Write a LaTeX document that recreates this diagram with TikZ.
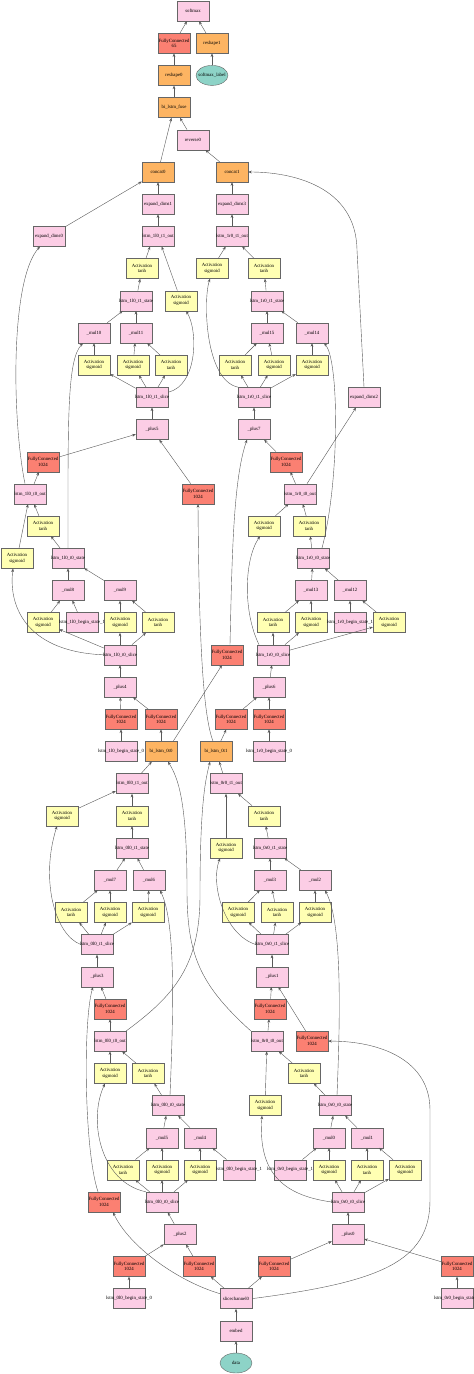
\documentclass[tikz,border=0pt]{standalone}
\usepackage{fontspec}
\setmainfont{Liberation Serif}
\usetikzlibrary{arrows.meta,shapes.geometric}
\definecolor{cpink}{HTML}{FCCDE5}
\definecolor{cred}{HTML}{FB8072}
\definecolor{cyel}{HTML}{FFFFB3}
\definecolor{corg}{HTML}{FDB462}
\definecolor{cteal}{HTML}{8DD3C7}
\newcommand{\mytx}[1]{\makebox[0pt]{#1}}
\newcommand{\mytwo}[2]{\makebox[0pt]{#1}\\\makebox[0pt]{#2}}
\begin{document}
\begin{tikzpicture}[x=1pt,y=-1pt,
  nbox/.style={rectangle, draw=black!60, line width=0.4pt, minimum width=32pt, minimum height=20pt, inner sep=0pt, font=\fontsize{4.8}{5.6}\selectfont, align=center},
  pk/.style={nbox, fill=cpink},
  fcn/.style={nbox, fill=cred},
  act/.style={nbox, fill=cyel},
  org/.style={nbox, fill=corg},
  var/.style={nbox, ellipse, fill=cteal},
  e/.style={draw=black!65, line width=0.4pt, -{Stealth[length=3.6pt,width=2.8pt]}}]
\path[use as bounding box, fill=white] (0,0) rectangle (474,1374);
% ---------- nodes ----------
\node[pk] (softmax) at (193,11) {\mytx{softmax}};
\node[fcn] (fc65) at (174,43.2) {\mytwo{FullyConnected}{65}};
\node[org] (reshape1) at (212,43.2) {\mytx{reshape1}};
\node[org] (reshape0) at (174,75.4) {\mytx{reshape0}};
\node[var] (label) at (212,75.4) {\mytx{softmax\_label}};
\node[org] (fuse) at (174,107.6) {\mytx{bi\_lstm\_fuse}};
\node[pk] (reverse0) at (193,139.8) {\mytx{reverse0}};
\node[org] (concat0) at (158,172) {\mytx{concat0}};
\node[org] (concat1) at (232,172) {\mytx{concat1}};
\node[pk] (ed1) at (158,204.1) {\mytx{expand\_dims1}};
\node[pk] (ed3) at (232,204.1) {\mytx{expand\_dims3}};
\node[pk] (ed0) at (49,236.3) {\mytx{expand\_dims0}};
\node[pk] (l1t1out) at (158,236.3) {\mytx{lstm\_1l0\_t1\_out}};
\node[pk] (r1t1out) at (232,236.3) {\mytx{lstm\_1r0\_t1\_out}};
\node[act] (a1) at (142,268.5) {\mytwo{Activation}{tanh}};
\node[act] (a2) at (212,268.5) {\mytwo{Activation}{sigmoid}};
\node[act] (a3) at (264,268.5) {\mytwo{Activation}{tanh}};
\node[pk] (l1t1state) at (136,300.7) {\mytx{lstm\_1l0\_t1\_state}};
\node[act] (a4) at (181,300.7) {\mytwo{Activation}{sigmoid}};
\node[pk] (r1t1state) at (267,300.7) {\mytx{lstm\_1r0\_t1\_state}};
\node[pk] (mul10) at (94,332.9) {\mytx{\_mul10}};
\node[pk] (mul11) at (136,332.9) {\mytx{\_mul11}};
\node[pk] (mul15) at (267,332.9) {\mytx{\_mul15}};
\node[pk] (mul14) at (312,332.9) {\mytx{\_mul14}};
\node[act] (a5) at (94,365.1) {\mytwo{Activation}{sigmoid}};
\node[act] (a6) at (133,365.1) {\mytwo{Activation}{sigmoid}};
\node[act] (a7) at (171,365.1) {\mytwo{Activation}{tanh}};
\node[act] (a8) at (235,365.1) {\mytwo{Activation}{tanh}};
\node[act] (a9) at (274,365.1) {\mytwo{Activation}{sigmoid}};
\node[act] (a10) at (312,365.1) {\mytwo{Activation}{sigmoid}};
\node[pk] (l1t1slice) at (152,397.3) {\mytx{lstm\_1l0\_t1\_slice}};
\node[pk] (r1t1slice) at (254,397.3) {\mytx{lstm\_1r0\_t1\_slice}};
\node[pk] (ed2) at (364,397.3) {\mytx{expand\_dims2}};
\node[pk] (plus5) at (152,429.5) {\mytx{\_plus5}};
\node[pk] (plus7) at (254,429.5) {\mytx{\_plus7}};
\node[fcn] (fcA) at (43,461.7) {\mytwo{FullyConnected}{1024}};
\node[fcn] (fcB) at (286,461.7) {\mytwo{FullyConnected}{1024}};
\node[pk] (l1t0out) at (30,493.9) {\mytx{lstm\_1l0\_t0\_out}};
\node[fcn] (fcC) at (198,493.9) {\mytwo{FullyConnected}{1024}};
\node[pk] (r1t0out) at (300,493.9) {\mytx{lstm\_1r0\_t0\_out}};
\node[act] (a11) at (43,526) {\mytwo{Activation}{tanh}};
\node[act] (a12) at (264,526) {\mytwo{Activation}{sigmoid}};
\node[act] (a13) at (309,526) {\mytwo{Activation}{tanh}};
\node[act] (a14) at (17,558.2) {\mytwo{Activation}{sigmoid}};
\node[pk] (l1t0state) at (68,558.2) {\mytx{lstm\_1l0\_t0\_state}};
\node[pk] (r1t0state) at (313,558.2) {\mytx{lstm\_1r0\_t0\_state}};
\node[pk] (mul8) at (68,590.4) {\mytx{\_mul8}};
\node[pk] (mul9) at (120,590.4) {\mytx{\_mul9}};
\node[pk] (mul13) at (311,590.4) {\mytx{\_mul13}};
\node[pk] (mul12) at (350,590.4) {\mytx{\_mul12}};
\node[act] (a15) at (43,622.6) {\mytwo{Activation}{sigmoid}};
\node[pk] (l1bs1) at (82,622.6) {\mytx{lstm\_1l0\_begin\_state\_1}};
\node[act] (a16) at (120,622.6) {\mytwo{Activation}{sigmoid}};
\node[act] (a17) at (158,622.6) {\mytwo{Activation}{tanh}};
\node[act] (a18) at (273,622.6) {\mytwo{Activation}{tanh}};
\node[act] (a19) at (311,622.6) {\mytwo{Activation}{sigmoid}};
\node[pk] (r1bs1) at (350,622.6) {\mytx{lstm\_1r0\_begin\_state\_1}};
\node[act] (a20) at (389,622.6) {\mytwo{Activation}{sigmoid}};
\node[pk] (l1t0slice) at (120,654.8) {\mytx{lstm\_1l0\_t0\_slice}};
\node[fcn] (fcD) at (227,654.8) {\mytwo{FullyConnected}{1024}};
\node[pk] (r1t0slice) at (273,654.8) {\mytx{lstm\_1r0\_t0\_slice}};
\node[pk] (plus4) at (120,687) {\mytx{\_plus4}};
\node[pk] (plus6) at (269,687) {\mytx{\_plus6}};
\node[fcn] (fcE) at (121,719.2) {\mytwo{FullyConnected}{1024}};
\node[fcn] (fcF) at (161,719.2) {\mytwo{FullyConnected}{1024}};
\node[fcn] (fcG) at (231,719.2) {\mytwo{FullyConnected}{1024}};
\node[fcn] (fcH) at (269,719.2) {\mytwo{FullyConnected}{1024}};
\node[pk] (l1bs0) at (121,751.4) {\mytx{lstm\_1l0\_begin\_state\_0}};
\node[org] (bi0) at (161,751.4) {\mytx{bi\_lstm\_0t0}};
\node[org] (bi1) at (216,751.4) {\mytx{bi\_lstm\_0t1}};
\node[pk] (r1bs0) at (269,751.4) {\mytx{lstm\_1r0\_begin\_state\_0}};
\node[pk] (l0t1out) at (132,783.6) {\mytx{lstm\_0l0\_t1\_out}};
\node[pk] (r0t1out) at (226,783.6) {\mytx{lstm\_0r0\_t1\_out}};
\node[act] (a21) at (62,815.8) {\mytwo{Activation}{sigmoid}};
\node[act] (a22) at (132,815.8) {\mytwo{Activation}{tanh}};
\node[act] (a23) at (264,815.8) {\mytwo{Activation}{tanh}};
\node[pk] (l0t1state) at (132,848) {\mytx{lstm\_0l0\_t1\_state}};
\node[act] (a24) at (226,848) {\mytwo{Activation}{sigmoid}};
\node[pk] (r0t1state) at (270,848) {\mytx{lstm\_0r0\_t1\_state}};
\node[pk] (mul7) at (110,880.1) {\mytx{\_mul7}};
\node[pk] (mul6) at (149,880.1) {\mytx{\_mul6}};
\node[pk] (mul3) at (270,880.1) {\mytx{\_mul3}};
\node[pk] (mul2) at (315,880.1) {\mytx{\_mul2}};
\node[act] (a25) at (71,912.3) {\mytwo{Activation}{tanh}};
\node[act] (a26) at (110,912.3) {\mytwo{Activation}{sigmoid}};
\node[act] (a27) at (148,912.3) {\mytwo{Activation}{sigmoid}};
\node[act] (a28) at (238,912.3) {\mytwo{Activation}{sigmoid}};
\node[act] (a29) at (277,912.3) {\mytwo{Activation}{tanh}};
\node[act] (a30) at (315,912.3) {\mytwo{Activation}{sigmoid}};
\node[pk] (l0t1slice) at (97,944.5) {\mytx{lstm\_0l0\_t1\_slice}};
\node[pk] (r0t1slice) at (272,944.5) {\mytx{lstm\_0r0\_t1\_slice}};
\node[pk] (plus3) at (97,976.7) {\mytx{\_plus3}};
\node[pk] (plus1) at (272,976.7) {\mytx{\_plus1}};
\node[fcn] (fcI) at (110,1008.9) {\mytwo{FullyConnected}{1024}};
\node[fcn] (fcJ) at (270,1008.9) {\mytwo{FullyConnected}{1024}};
\node[pk] (l0t0out) at (110,1041.1) {\mytx{lstm\_0l0\_t0\_out}};
\node[pk] (r0t0out) at (267,1041.1) {\mytx{lstm\_0r0\_t0\_out}};
\node[fcn] (fcK) at (312,1041.1) {\mytwo{FullyConnected}{1024}};
\node[act] (a31) at (110,1073.3) {\mytwo{Activation}{sigmoid}};
\node[act] (a32) at (148,1073.3) {\mytwo{Activation}{tanh}};
\node[act] (a33) at (304,1073.3) {\mytwo{Activation}{tanh}};
\node[pk] (l0t0state) at (168,1105.5) {\mytx{lstm\_0l0\_t0\_state}};
\node[act] (a34) at (265,1105.5) {\mytwo{Activation}{sigmoid}};
\node[pk] (r0t0state) at (335,1105.5) {\mytx{lstm\_0r0\_t0\_state}};
\node[pk] (mul5) at (162,1137.7) {\mytx{\_mul5}};
\node[pk] (mul4) at (200,1137.7) {\mytx{\_mul4}};
\node[pk] (mul0) at (329,1137.7) {\mytx{\_mul0}};
\node[pk] (mul1) at (367,1137.7) {\mytx{\_mul1}};
\node[act] (a35) at (123,1169.8) {\mytwo{Activation}{tanh}};
\node[act] (a36) at (162,1169.8) {\mytwo{Activation}{sigmoid}};
\node[act] (a37) at (200,1169.8) {\mytwo{Activation}{sigmoid}};
\node[pk] (l0bs1) at (239,1169.8) {\mytx{lstm\_0l0\_begin\_state\_1}};
\node[pk] (r0bs1) at (290,1169.8) {\mytx{lstm\_0r0\_begin\_state\_1}};
\node[act] (a38) at (329,1169.8) {\mytwo{Activation}{sigmoid}};
\node[act] (a39) at (367,1169.8) {\mytwo{Activation}{tanh}};
\node[act] (a40) at (405,1169.8) {\mytwo{Activation}{sigmoid}};
\node[fcn] (fcL) at (104,1202) {\mytwo{FullyConnected}{1024}};
\node[pk] (l0t0slice) at (162,1202) {\mytx{lstm\_0l0\_t0\_slice}};
\node[pk] (r0t0slice) at (348,1202) {\mytx{lstm\_0r0\_t0\_slice}};
\node[pk] (plus2) at (180,1234.2) {\mytx{\_plus2}};
\node[pk] (plus0) at (348,1234.2) {\mytx{\_plus0}};
\node[fcn] (fcM) at (129,1266.4) {\mytwo{FullyConnected}{1024}};
\node[fcn] (fcN) at (199,1266.4) {\mytwo{FullyConnected}{1024}};
\node[fcn] (fcO) at (274,1266.4) {\mytwo{FullyConnected}{1024}};
\node[fcn] (fcP) at (457,1266.4) {\mytwo{FullyConnected}{1024}};
\node[pk] (l0bs0) at (129,1298.6) {\mytx{lstm\_0l0\_begin\_state\_0}};
\node[pk] (sc) at (236,1298.6) {\mytx{slicechannel0}};
\node[pk] (r0bs0) at (457,1298.6) {\mytx{lstm\_0r0\_begin\_state\_0}};
\node[pk] (embed) at (236,1330.8) {\mytx{embed}};
\node[var] (data) at (236,1363) {\mytx{data}};
% ---------- edges: top ----------
\draw[e] (fc65) -- (softmax);
\draw[e] (reshape1) -- (softmax);
\draw[e] (reshape0) -- (fc65);
\draw[e] (label) -- (reshape1);
\draw[e] (fuse) -- (reshape0);
\draw[e] (concat0) -- (fuse);
\draw[e] (reverse0) -- (fuse);
\draw[e] (concat1) -- (reverse0);
\draw[e] (ed1) -- (concat0);
\draw[e] (ed0) -- (concat0);
\draw[e] (ed3) -- (concat1);
\draw[e] (ed2.north) -- (357,250) .. controls (356,185) and (290,172) .. (concat1.east);
% ---------- layer 1, t1 ----------
\draw[e] (l1t1out) -- (ed1);
\draw[e] (r1t1out) -- (ed3);
\draw[e] ([xshift=-5pt]l1t0out.north) .. controls (12,420) and (10,280) .. ([xshift=-9pt]ed0.south);
\draw[e] ([xshift=4pt]a1.north) -- ([xshift=-8pt]l1t1out.south);
\draw[e] (a4) -- (l1t1out);
\draw[e] (l1t1state) -- (a1);
\draw[e] (mul10) -- (l1t1state);
\draw[e] (mul11) -- (l1t1state);
\draw[e] (a5) -- (mul10);
\draw[e] (l1t0state.north) .. controls (68,420) and (67,360) .. ([xshift=-11pt]mul10.south);
\draw[e] (a6) -- (mul11);
\draw[e] (a7) -- (mul11);
\draw[e] (l1t1slice) -- (a5);
\draw[e] (l1t1slice) -- (a6);
\draw[e] (l1t1slice) -- (a7);
\draw[e] ([yshift=5pt]l1t1slice.east) .. controls (198,385) and (198,330) .. ([xshift=5pt]a4.south);
\draw[e] (plus5) -- (l1t1slice);
\draw[e] (fcA) -- (plus5);
\draw[e] (fcC) -- (plus5);
\draw[e] (a3) -- (r1t1out);
\draw[e] (a2) -- (r1t1out);
\draw[e] (r1t1state) -- (a3);
\draw[e] (mul15) -- (r1t1state);
\draw[e] (mul14) -- (r1t1state);
\draw[e] (a8) -- (mul15);
\draw[e] (a9) -- (mul15);
\draw[e] (a10) -- (mul14);
\draw[e] ([xshift=9pt]r1t0state.north) .. controls (340,480) and (339,360) .. ([xshift=12pt]mul14.south);
\draw[e] (r1t1slice.north west) .. controls (205,380) and (203,300) .. ([xshift=-2pt]a2.south);
\draw[e] (r1t1slice) -- (a8);
\draw[e] (r1t1slice) -- (a9);
\draw[e] (r1t1slice) -- (a10);
\draw[e] (plus7) -- (r1t1slice);
\draw[e] (fcB) -- (plus7);
\draw[e] ([xshift=3pt]fcD.north) .. controls (232,560) and (233,480) .. ([xshift=-7pt]plus7.south);
% ---------- layer 1, t0 ----------
\draw[e] (r1t0out) -- (fcB);
\draw[e] ([xshift=7pt]r1t0out.north) -- ([xshift=-8pt]ed2.south);
\draw[e] (a12) -- (r1t0out);
\draw[e] (a13) -- (r1t0out);
\draw[e] (r1t0state) -- (a13);
\draw[e] (mul13) -- (r1t0state);
\draw[e] (mul12) -- (r1t0state);
\draw[e] (a18) -- (mul13);
\draw[e] (a19) -- (mul13);
\draw[e] (r1bs1) -- (mul12);
\draw[e] (a20) -- (mul12);
\draw[e] ([xshift=-14pt]r1t0slice.north) .. controls (243,612) and (244,560) .. ([xshift=-4pt]a12.south);
\draw[e] (r1t0slice) -- (a18);
\draw[e] (r1t0slice) -- (a19);
\draw[e] (r1t0slice) -- (a20);
\draw[e] (plus6) -- (r1t0slice);
\draw[e] (fcG) -- (plus6);
\draw[e] (fcH) -- (plus6);
\draw[e] (bi1) -- (fcG);
\draw[e] (r1bs0) -- (fcH);
\draw[e] (l1t0out) -- (fcA);
\draw[e] (a14) -- (l1t0out);
\draw[e] (a11) -- (l1t0out);
\draw[e] (l1t0state) -- (a11);
\draw[e] (mul8) -- (l1t0state);
\draw[e] (mul9) -- (l1t0state);
\draw[e] (a15) -- (mul8);
\draw[e] (l1bs1) -- (mul8);
\draw[e] (a16) -- (mul9);
\draw[e] (a17) -- (mul9);
\draw[e] (l1t0slice.west) .. controls (30,652) and (8,610) .. ([xshift=-4pt]a14.south);
\draw[e] (l1t0slice) -- (a15);
\draw[e] (l1t0slice) -- (a16);
\draw[e] (l1t0slice) -- (a17);
\draw[e] (plus4) -- (l1t0slice);
\draw[e] (fcE) -- (plus4);
\draw[e] (fcF) -- (plus4);
\draw[e] (l1bs0) -- (fcE);
\draw[e] (bi0) -- (fcF);
\draw[e] ([xshift=-4pt]bi0.north east) -- ([xshift=-5pt]fcD.south);
\draw[e] ([xshift=-3pt]bi1.north) .. controls (203,715) and (199,640) .. (fcC.south);
% ---------- layer 0, t1 ----------
\draw[e] (l0t1out) -- (bi0);
\draw[e] (r0t0out.north west) .. controls (200,985) and (187,955) .. (187,890) .. controls (187,800) and (178,778) .. ([xshift=7pt]bi0.south);
\draw[e] (r0t1out) -- (bi1);
\draw[e] (l0t0out.north east) .. controls (175,995) and (200,965) .. (200,895) .. controls (200,800) and (206,778) .. ([xshift=-6pt]bi1.south);
\draw[e] (a21) -- (l0t1out);
\draw[e] (a22) -- (l0t1out);
\draw[e] (l0t1state) -- (a22);
\draw[e] (mul7) -- (l0t1state);
\draw[e] (mul6) -- (l0t1state);
\draw[e] (a25) -- (mul7);
\draw[e] (a26) -- (mul7);
\draw[e] (a27) -- (mul6);
\draw[e] ([xshift=2pt]l0t0state.north) .. controls (174,1000) and (175,920) .. ([xshift=11pt]mul6.south);
\draw[e] (l0t1slice.west) .. controls (55,935) and (40,880) .. ([xshift=-5pt]a21.south);
\draw[e] (l0t1slice) -- (a25);
\draw[e] (l0t1slice) -- (a26);
\draw[e] (l0t1slice) -- (a27);
\draw[e] (plus3) -- (l0t1slice);
\draw[e] (fcI) -- (plus3);
\draw[e] ([xshift=-6pt]fcL.north) .. controls (84,1150) and (83,1020) .. ([xshift=-4pt]plus3.south);
\draw[e] (a23) -- (r0t1out);
\draw[e] (a24) -- (r0t1out);
\draw[e] (r0t1state) -- (a23);
\draw[e] (mul3) -- (r0t1state);
\draw[e] (mul2) -- (r0t1state);
\draw[e] (a28) -- (mul3);
\draw[e] (a29) -- (mul3);
\draw[e] (a30) -- (mul2);
\draw[e] ([xshift=2pt]r0t0state.north) .. controls (341,1000) and (341,920) .. ([xshift=10pt]mul2.south);
\draw[e] (r0t1slice.west) .. controls (225,935) and (210,885) .. ([xshift=-6pt]a24.south);
\draw[e] (r0t1slice) -- (a28);
\draw[e] (r0t1slice) -- (a29);
\draw[e] (r0t1slice) -- (a30);
\draw[e] (plus1) -- (r0t1slice);
\draw[e] (fcJ) -- (plus1);
\draw[e] (fcK) -- (plus1);
% ---------- layer 0, t0 ----------
\draw[e] (l0t0out) -- (fcI);
\draw[e] (a31) -- (l0t0out);
\draw[e] (a32) -- (l0t0out);
\draw[e] (l0t0state) -- (a32);
\draw[e] (mul5) -- (l0t0state);
\draw[e] (mul4) -- (l0t0state);
\draw[e] (a35) -- (mul5);
\draw[e] (a36) -- (mul5);
\draw[e] (a37) -- (mul4);
\draw[e] (l0bs1) -- (mul4);
\draw[e] (l0t0slice.north west) .. controls (100,1182) and (88,1120) .. ([xshift=-5pt]a31.south);
\draw[e] (l0t0slice) -- (a35);
\draw[e] (l0t0slice) -- (a36);
\draw[e] (l0t0slice) -- (a37);
\draw[e] (plus2) -- (l0t0slice);
\draw[e] (fcM) -- (plus2);
\draw[e] (fcN) -- (plus2);
\draw[e] (l0bs0) -- (fcM);
\draw[e] (sc) -- (fcN);
\draw[e] ([yshift=5pt]sc.west) .. controls (180,1282) and (130,1248) .. ([xshift=9pt]fcL.south);
\draw[e] (r0t0out) -- (fcJ);
\draw[e] (sc.east) .. controls (380,1282) and (430,1262) .. (430,1200) -- (430,1110) .. controls (430,1060) and (380,1041) .. (fcK.east);
\draw[e] (a34) -- (r0t0out);
\draw[e] (a33) -- (r0t0out);
\draw[e] (r0t0state) -- (a33);
\draw[e] (mul0) -- (r0t0state);
\draw[e] (mul1) -- (r0t0state);
\draw[e] (r0bs1) -- (mul0);
\draw[e] (a38) -- (mul0);
\draw[e] (a39) -- (mul1);
\draw[e] (a40) -- (mul1);
\draw[e] (r0t0slice.west) .. controls (280,1195) and (258,1170) .. ([xshift=-3pt]a34.south);
\draw[e] (r0t0slice) -- (a38);
\draw[e] (r0t0slice) -- (a39);
\draw[e] (r0t0slice) -- (a40);
\draw[e] (plus0) -- (r0t0slice);
\draw[e] (fcO) -- (plus0);
\draw[e] (fcP) -- (plus0);
\draw[e] (sc) -- (fcO);
\draw[e] (r0bs0) -- (fcP);
\draw[e] (embed) -- (sc);
\draw[e] (data) -- (embed);
\end{tikzpicture}
\end{document}
